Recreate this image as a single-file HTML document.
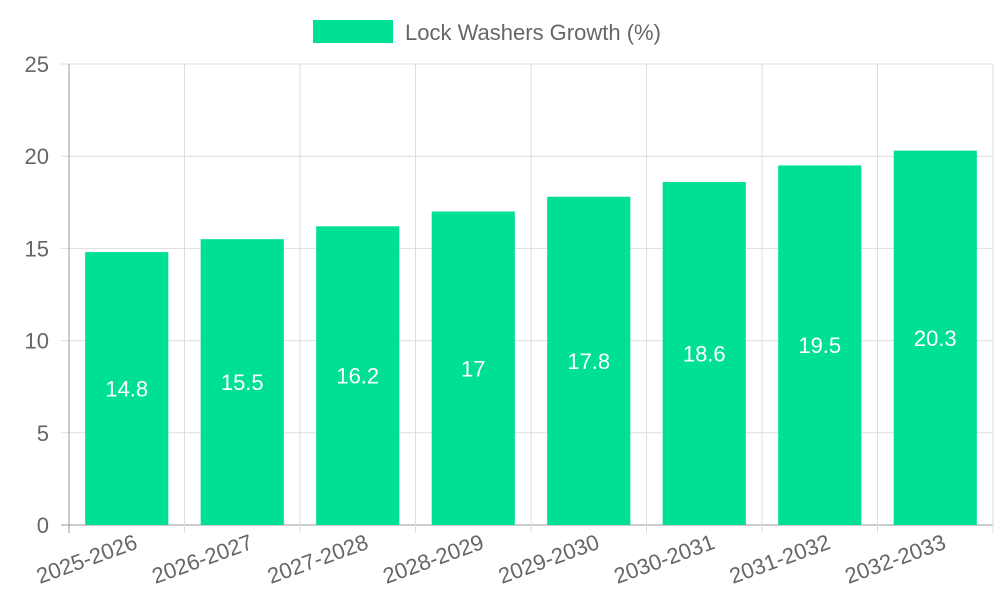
<!DOCTYPE html>
<html><head><meta charset="utf-8"><style>
html,body{margin:0;padding:0;background:#fff;}
svg text{font-family:"Liberation Sans",sans-serif;}
</style></head><body>
<svg id="chart" width="1000" height="600"></svg>
<script>
const categories=["2025-2026","2026-2027","2027-2028","2028-2029","2029-2030","2030-2031","2031-2032","2032-2033"];
const values=[14.8,15.5,16.2,17,17.8,18.6,19.5,20.3];
const valueLabels=["14.8","15.5","16.2","17","17.8","18.6","19.5","20.3"];
const yTicks=[0,5,10,15,20,25];
const seriesName="Lock Washers Growth (%)";

const NS="http://www.w3.org/2000/svg";
const svg=document.getElementById('chart');
const L=69,R=993,T=64,B=525,yMax=25;
const bw=(R-L)/categories.length;
const y=v=>B-(v/yMax)*(B-T);
const x=i=>L+i*bw;
function mk(tag,attrs,parent){const e=document.createElementNS(NS,tag);for(const k in attrs)e.setAttribute(k,attrs[k]);(parent||svg).appendChild(e);return e;}

// legend
const lg=mk('g',{});


mk('rect',{x:313,y:20,width:80,height:23,fill:'#00e095'},lg);
const lt=mk('text',{x:405,y:40,'font-size':22,fill:'#666'},lg);lt.textContent=seriesName;

// grid
const grid=mk('g',{});


yTicks.forEach(t=>{
  mk('line',{x1:L-8,x2:R,y1:y(t),y2:y(t),stroke:t===0?'#999':'#ddd','stroke-width':1},grid);
  const tx=mk('text',{x:L-20,y:y(t)+8,'font-size':22,fill:'#666','text-anchor':'end'});
  
  
  tx.textContent=t;
});
for(let i=0;i<=categories.length;i++){
  mk('line',{x1:x(i),x2:x(i),y1:T,y2:B+8,stroke:i===0?'#999':'#ddd','stroke-width':1},grid);
}

// bars
categories.forEach((c,i)=>{
  const w=bw*0.72,bx=x(i)+(bw-w)/2,top=y(values[i]);
  const r=mk('rect',{x:bx,y:top,width:w,height:B-top,fill:'#00e095'});
  
  
  const vl=mk('text',{x:bx+w/2,y:(top+B)/2+8,'font-size':22,fill:'#fff','text-anchor':'middle'});
  
  
  vl.textContent=valueLabels[i];
  const cx=x(i)+bw/2+12;
  const xl=mk('text',{x:cx,y:548,'font-size':22,fill:'#666','text-anchor':'end',transform:`rotate(-20 ${cx} 548)`});
  
  
  xl.textContent=c;
});
</script>
</body></html>
